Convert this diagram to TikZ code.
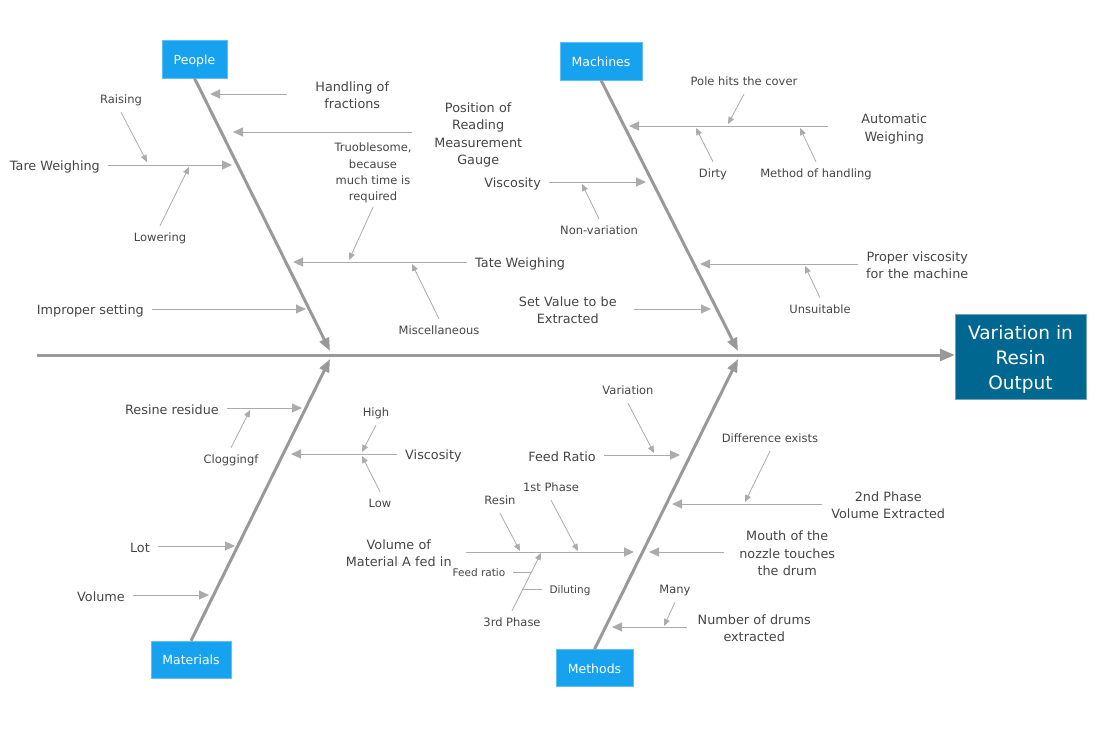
\documentclass[tikz,border=0pt]{standalone}
\usepackage{fontspec}
\setmainfont{DejaVu Sans}
\usetikzlibrary{arrows.meta,positioning}
\definecolor{BoneGrey}{HTML}{999999}
\definecolor{TwigGrey}{HTML}{ABABAB}
\definecolor{InkGrey}{HTML}{454545}
\definecolor{CatBlue}{HTML}{16A2EE}
\definecolor{CatEdge}{HTML}{5CC0F2}
\definecolor{EffectTeal}{HTML}{006890}
\definecolor{EffectEdge}{HTML}{6FA5BA}

\begin{document}
\begin{tikzpicture}[x=1pt, y=-1pt,
  every node/.style={text=InkGrey},
  category/.style={draw=CatEdge, fill=CatBlue, text=white, minimum height=38pt, inner sep=0pt, text height=12pt, text depth=2pt, font=\fontsize{12.5}{15}\selectfont},
  cause/.style={font=\fontsize{12.8}{17.3}\selectfont, align=center, inner xsep=8pt, inner ysep=2pt, yshift=-1.5pt},
  multi/.style={cause, text width=#1, inner xsep=0pt},
  tag/.style={font=\fontsize{11.5}{16.3}\selectfont, inner xsep=7.5pt, inner ysep=6.5pt, text height=8.5pt, text depth=2.5pt},
  note/.style={font=\fontsize{11.5}{16.3}\selectfont, align=center, inner sep=4pt},
  mini/.style={tag, font=\fontsize{10.5}{14}\selectfont},
  bone/.style={draw=BoneGrey, line width=3pt, -{Triangle[length=13pt,width=10pt]}},
  branch/.style={draw=TwigGrey, line width=1pt, -{Triangle[length=10pt,width=9pt]}},
  twig/.style={draw=TwigGrey, line width=0.8pt, -{Triangle[length=7pt,width=6pt]}},
  stub/.style={draw=TwigGrey, line width=0.8pt}]
  \useasboundingbox (0,0) rectangle (1105,728);

  \node[draw=EffectEdge, fill=EffectTeal, text=white, minimum width=131pt, minimum height=85pt, align=center, font=\fontsize{18.5}{24.8}\selectfont] (effect) at (1020.5,356.5) {\rule{0pt}{20pt}Variation in\\Resin\\Output};
  \coordinate (tail) at (37,355);
  \draw[bone, -{Triangle[length=15pt,width=12pt]}] (tail) -- (tail -| effect.west);

  \node[category, minimum width=65pt] (people) at (194.5,59) {People};
  \node[category, minimum width=82pt] (machines) at (601,61) {Machines};
  \node[category, minimum width=80pt, minimum height=37pt] (materials) at (191,659.5) {Materials};
  \node[category, minimum width=77pt, minimum height=37pt] (methods) at (594.5,668) {Methods};
  \coordinate (pj) at (330,351);
  \coordinate (mj) at (738,351);
  \coordinate (matj) at (330,359);
  \coordinate (metj) at (738,359);
  \draw[bone] (people.south) -- (pj);
  \draw[bone] (machines.south) -- (mj);
  \draw[bone] (materials.north) -- (matj);
  \draw[bone] (methods.north) -- (metj);

  % People
  \node[multi=130pt, anchor=west] (handling) at (287,94) {Handling of\\fractions};
  \node[multi=132pt, anchor=west, yshift=-1.5pt] (position) at (412,132) {Position of\\Reading\\Measurement\\Gauge};
  \node[cause, anchor=east] (tare) at (108,165) {Tare Weighing};
  \node[cause, anchor=west] (tate) at (467,262) {Tate Weighing};
  \node[cause, anchor=east] (improper) at (152,309) {Improper setting};
  \coordinate (handlingt) at (210,94);
  \coordinate (positiont) at (233,132);
  \coordinate (taret) at (232,165);
  \coordinate (tatet) at (293,262);
  \coordinate (impropert) at (306,309);
  \draw[branch] (handling.west |- handlingt) -- (handlingt);
  \draw[branch] (position.west |- positiont) -- (positiont);
  \draw[branch] (tare.east |- taret) -- (taret);
  \draw[branch] (tate.west |- tatet) -- (tatet);
  \draw[branch] (improper.east |- impropert) -- (impropert);
  \node[tag] (raising) at (121,100) {Raising};
  \node[tag] (lowering) at (160,238) {Lowering};
  \node[note] (trouble) at (373,173) {Truoblesome,\\because\\much time is\\required};
  \node[tag] (misc) at (439,331) {Miscellaneous};
  \coordinate (raisingt) at (147,162);
  \coordinate (loweringt) at (189,167);
  \coordinate (troublet) at (349,260);
  \coordinate (misct) at (412,264);
  \draw[twig] (raising.south) -- (raisingt);
  \draw[twig] (lowering.north) -- (loweringt);
  \draw[twig] (trouble.south) -- (troublet);
  \draw[twig] (misc.north) -- (misct);

  % Machines
  \node[multi=132pt, anchor=west, yshift=-1.5pt] (auto) at (828,126) {Automatic\\Weighing};
  \node[cause, anchor=east] (viscm) at (549,182) {Viscosity};
  \node[multi=118pt, anchor=west] (proper) at (858,264) {Proper viscosity\\for the machine};
  \node[multi=132pt, anchor=east] (setval) at (634,309) {Set Value to be\\Extracted};
  \coordinate (autot) at (629,126);
  \coordinate (viscmt) at (646,182);
  \coordinate (propert) at (700,264);
  \coordinate (setvalt) at (711,309);
  \draw[branch] (auto.west |- autot) -- (autot);
  \draw[branch] (viscm.east |- viscmt) -- (viscmt);
  \draw[branch] (proper.west |- propert) -- (propert);
  \draw[branch] (setval.east |- setvalt) -- (setvalt);
  \node[tag] (pole) at (744,82) {Pole hits the cover};
  \node[tag] (dirty) at (713,174) {Dirty};
  \node[tag] (handle) at (816,174) {Method of handling};
  \node[tag] (nonvar) at (599,231) {Non-variation};
  \node[tag] (unsuit) at (820,310) {Unsuitable};
  \coordinate (polet) at (728,124);
  \coordinate (dirtyt) at (696,128);
  \coordinate (handlet) at (800,128);
  \coordinate (nonvart) at (582,184);
  \coordinate (unsuitt) at (805,266);
  \draw[twig] (pole.south) -- (polet);
  \draw[twig] (dirty.north) -- (dirtyt);
  \draw[twig] (handle.north) -- (handlet);
  \draw[twig] (nonvar.north) -- (nonvart);
  \draw[twig] (unsuit.north) -- (unsuitt);

  % Materials
  \node[cause, anchor=east] (resine) at (227,408) {Resine residue};
  \node[cause, anchor=west] (viscmat) at (397,454) {Viscosity};
  \node[cause, anchor=east] (lot) at (158,546) {Lot};
  \node[cause, anchor=east] (volume) at (133,595) {Volume};
  \coordinate (resinet) at (302,408);
  \coordinate (viscmatt) at (291,454);
  \coordinate (lott) at (235,546);
  \coordinate (volumet) at (209,595);
  \draw[branch] (resine.east |- resinet) -- (resinet);
  \draw[branch] (viscmat.west |- viscmatt) -- (viscmatt);
  \draw[branch] (lot.east |- lott) -- (lott);
  \draw[branch] (volume.east |- volumet) -- (volumet);
  \node[tag] (clog) at (231,460) {Cloggingf};
  \node[tag] (high) at (376,413) {High};
  \node[tag] (low) at (380,504) {Low};
  \coordinate (clogt) at (250,410);
  \coordinate (hight) at (362,452);
  \coordinate (lowt) at (362,456);
  \draw[twig] (clog.north) -- (clogt);
  \draw[twig] (high.south) -- (hight);
  \draw[twig] (low.north) -- (lowt);

  % Methods
  \node[cause, anchor=east] (feed) at (604,455) {Feed Ratio};
  \node[multi=132pt, anchor=west] (second) at (822,504) {2nd Phase\\Volume Extracted};
  \node[multi=126pt, anchor=west] (mouth) at (724,552) {Mouth of the\\nozzle touches\\the drum};
  \node[multi=134pt, anchor=east] (volmat) at (466,552) {Volume of\\Material A fed in};
  \node[multi=134pt, anchor=west] (drums) at (687,627) {Number of drums\\extracted};
  \coordinate (feedt) at (680,455);
  \coordinate (secondt) at (672,504);
  \coordinate (moutht) at (649,552);
  \coordinate (volmatt) at (634,552);
  \coordinate (drumst) at (612,627);
  \draw[branch] (feed.east |- feedt) -- (feedt);
  \draw[branch] (second.west |- secondt) -- (secondt);
  \draw[branch] (mouth.west |- moutht) -- (moutht);
  \draw[branch] (volmat.east |- volmatt) -- (volmatt);
  \draw[branch] (drums.west |- drumst) -- (drumst);
  \node[tag] (variation) at (628,391) {Variation};
  \node[tag] (diff) at (770,439) {Difference exists};
  \node[tag] (resin) at (500,501) {Resin};
  \node[tag] (first) at (551,488) {1st Phase};
  \node[tag] (third) at (512,623) {3rd Phase};
  \node[tag] (many) at (675,590) {Many};
  \node[mini] (feedr) at (479,573) {Feed ratio};
  \node[mini] (dilute) at (570,590) {Diluting};
  \coordinate (variationt) at (654,453);
  \coordinate (difft) at (745,502);
  \coordinate (resint) at (520,551);
  \coordinate (firstt) at (578,551);
  \coordinate (thirdt) at (541,553);
  \coordinate (manyt) at (664,626);
  \coordinate (feedrj) at (531,572);
  \coordinate (dilutej) at (522,589);
  \draw[twig] (variation.south) -- (variationt);
  \draw[twig] (diff.south) -- (difft);
  \draw[twig] (resin.south) -- (resint);
  \draw[twig] (first.south) -- (firstt);
  \draw[twig] (third.north) -- (thirdt);
  \draw[twig] (many.south) -- (manyt);
  \draw[stub] (feedr.east |- feedrj) -- (feedrj);
  \draw[stub] (dilutej) -- (dilute.west |- dilutej);
\end{tikzpicture}
\end{document}
